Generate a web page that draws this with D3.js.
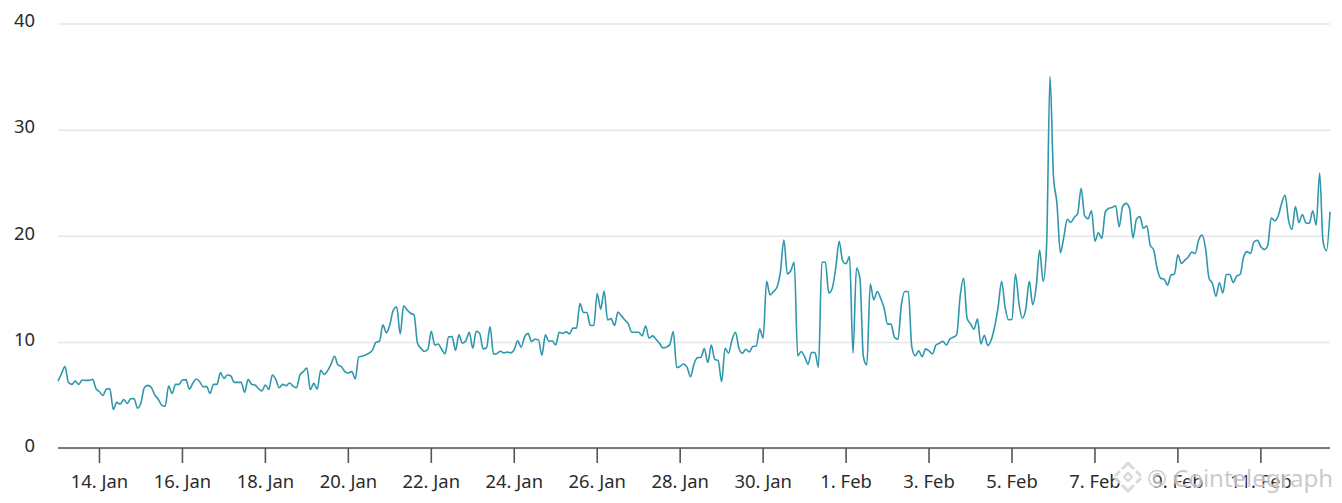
<!DOCTYPE html>
<html>
<head>
<meta charset="utf-8">
<script src="https://cdn.jsdelivr.net/npm/d3@7"></script>
<style>
  html, body { margin: 0; padding: 0; background: #fff; }
  text { font-family: "Noto Sans", sans-serif; }
</style>
</head>
<body>
<div id="chart"></div>
<script>
// First sample and sampling interval (one value every 2 hours)
const startDate = '2021-01-13T00:00';
const stepHours = 2;

const values = [
  6.3, 7.0, 7.67, 6.2, 6.0, 6.3, 6.0, 6.4, 6.37, 6.37, 6.47, 5.6, 5.3, 4.95, 5.55, 5.58, 3.63, 4.3, 4.13, 4.57,
  4.2, 4.64, 4.67, 3.75, 4.26, 5.7, 5.9, 5.7, 5.0, 4.6, 4.04, 3.94, 5.84, 5.14, 6.0, 6.0, 6.4, 6.44, 5.55, 6.1,
  6.5, 6.25, 5.77, 5.8, 5.14, 6.0, 6.0, 7.1, 6.56, 6.88, 6.78, 6.18, 6.18, 6.18, 5.24, 6.47, 6.0, 5.93, 5.6, 5.38,
  5.93, 5.52, 6.88, 6.47, 5.68, 6.0, 5.87, 6.12, 5.84, 5.68, 6.88, 7.2, 7.54, 5.49, 6.09, 5.55, 7.32, 6.94, 7.29, 7.9,
  8.64, 7.82, 7.67, 7.2, 7.07, 7.2, 6.5, 8.6, 8.65, 8.77, 8.93, 9.25, 9.97, 10.06, 11.6, 10.85, 11.6, 13.0, 13.3, 10.75,
  13.4, 13.0, 12.7, 12.55, 9.9, 9.4, 9.1, 9.3, 11.0, 9.7, 9.8, 9.3, 8.87, 10.47, 10.5, 9.2, 10.66, 9.87, 10.1, 10.9,
  9.4, 11.0, 10.8, 9.34, 9.47, 11.45, 8.84, 8.9, 9.12, 8.96, 9.03, 8.96, 9.3, 10.1, 9.5, 10.5, 10.8, 10.03, 10.25, 10.2,
  8.74, 10.66, 10.06, 10.1, 9.7, 10.9, 10.8, 10.94, 10.75, 11.3, 11.3, 13.6, 12.77, 12.77, 11.54, 11.54, 14.56, 13.08, 14.8, 12.07,
  12.2, 11.54, 12.8, 12.45, 12.07, 11.7, 10.9, 10.9, 10.9, 10.57, 11.5, 10.35, 10.57, 10.25, 9.87, 9.43, 9.5, 9.75, 10.97, 7.58,
  7.7, 7.92, 7.6, 6.73, 7.92, 8.5, 8.55, 9.37, 8.05, 9.7, 8.36, 8.24, 6.26, 9.4, 8.93, 10.2, 10.9, 9.4, 8.93, 9.3,
  9.06, 9.56, 9.62, 11.2, 10.35, 15.7, 14.43, 14.75, 15.15, 16.6, 19.6, 16.4, 16.7, 17.5, 8.7, 9.1, 8.6, 7.9, 9.0, 9.0,
  7.6, 17.5, 17.5, 14.6, 15.06, 16.95, 19.47, 17.64, 17.36, 18.05, 8.93, 16.95, 16.0, 8.6, 7.83, 15.44, 13.96, 14.75, 14.1, 13.18,
  11.67, 11.67, 10.44, 10.25, 13.5, 14.75, 14.75, 9.56, 8.7, 9.15, 8.6, 9.34, 9.15, 8.87, 9.7, 9.87, 10.06, 9.7, 10.25, 10.44,
  10.66, 14.3, 16.0, 12.23, 11.7, 11.2, 12.14, 9.8, 10.63, 9.65, 10.2, 11.45, 13.33, 15.7, 13.27, 12.08, 12.14, 16.4, 13.65, 12.23,
  13.1, 15.7, 13.5, 15.2, 18.65, 15.7, 19.0, 35.0, 25.6, 23.05, 18.4, 19.9, 21.54, 21.26, 21.73, 22.1, 24.47, 21.9, 21.6, 22.36,
  19.5, 20.28, 19.75, 22.26, 22.58, 22.67, 22.83, 20.85, 22.74, 23.05, 22.58, 19.8, 21.54, 21.8, 20.7, 20.94, 19.1, 18.65, 16.9, 16.0,
  15.9, 15.35, 16.3, 16.4, 18.2, 17.4, 17.7, 18.0, 18.46, 18.33, 19.6, 20.06, 18.8, 16.0, 15.5, 14.3, 15.57, 14.6, 16.35, 16.35,
  15.6, 16.2, 16.35, 18.0, 18.5, 18.33, 19.43, 19.56, 18.96, 18.7, 19.1, 21.7, 21.4, 21.86, 23.05, 23.84, 21.48, 20.6, 22.74, 21.23,
  22.0, 21.23, 21.16, 22.36, 21.0, 25.9, 19.43, 18.58, 22.26
];

const yTicks = [0, 10, 20, 30, 40];
const xTickDates = [
  '2021-01-14', '2021-01-16', '2021-01-18', '2021-01-20', '2021-01-22', '2021-01-24', '2021-01-26', '2021-01-28',
  '2021-01-30', '2021-02-01', '2021-02-03', '2021-02-05', '2021-02-07', '2021-02-09', '2021-02-11'
];

const watermark = 'Cointelegraph';

const width = 1342;
const height = 503;
const margin = { top: 23.5, right: 12, bottom: 55, left: 58 };

const svg = d3.select('#chart').append('svg')
  .attr('width', width)
  .attr('height', height)
  .style('display', 'block');

// Samples as dates
const start = d3.timeParse('%Y-%m-%dT%H:%M')(startDate);
const data = values.map((v, i) => ({ date: d3.timeHour.offset(start, i * stepHours), value: v }));
const parseDay = d3.timeParse('%Y-%m-%d');

// Scales
const x = d3.scaleTime()
  .domain(d3.extent(data, (d) => d.date))
  .range([margin.left, width - margin.right]);
const y = d3.scaleLinear()
  .domain([0, 40])
  .range([height - margin.bottom, margin.top]);

// Horizontal grid and y labels
const yAxis = svg.append('g')
  .attr('transform', 'translate(' + margin.left + ',0)')
  .call(d3.axisLeft(y).tickValues(yTicks).tickSize(-(width - margin.left - margin.right)).tickPadding(23));
yAxis.select('.domain').remove();
yAxis.selectAll('line').attr('stroke', '#e6e6e6').attr('stroke-width', 1.5);
yAxis.selectAll('text')
  .attr('fill', '#2b2b2b')
  .attr('dy', '0.18em')
  .style('font-size', '18.4px');

// X axis
const xAxis = svg.append('g')
  .attr('transform', 'translate(0,' + y(0) + ')')
  .call(d3.axisBottom(x)
    .tickValues(xTickDates.map(parseDay))
    .tickFormat(d3.timeFormat('%-d. %b'))
    .tickSize(15)
    .tickSizeOuter(0)
    .tickPadding(12)
    .offset(0));
xAxis.select('.domain').attr('stroke', '#555').attr('stroke-width', 1.6);
xAxis.selectAll('line').attr('stroke', '#555').attr('stroke-width', 1.6);
xAxis.selectAll('text')
  .attr('fill', '#2b2b2b')
  .style('font-size', '18.4px');

// Line
const line = d3.line()
  .x((d) => x(d.date))
  .y((d) => y(d.value))
  .curve(d3.curveMonotoneX);

svg.append('path').datum(data)
  .attr('d', line)
  .attr('fill', 'none')
  .attr('stroke', '#2f97ab')
  .attr('stroke-width', 1.6)
  .attr('stroke-linejoin', 'round');

// Watermark, sits on top of the last tick labels
const mark = svg.append('g')
  .attr('transform', 'translate(1128,477)')
  .attr('fill', 'none')
  .attr('stroke-linejoin', 'round');
mark.append('path')
  .attr('d', 'M0,-13L13,0L0,13L-13,0Z')
  .attr('fill', 'rgba(255,255,255,0.6)')
  .attr('stroke', 'none');
mark.append('path')
  .attr('d', 'M-6,-8L0,-14L6,-8M-6,8L0,14L6,8M-13,-1L-8,-6M-13,1L-8,6M13,-1L8,-6M13,1L8,6')
  .attr('stroke', 'rgba(215,215,215,0.9)')
  .attr('stroke-width', 3);
mark.append('path')
  .attr('d', 'M-4,0L0,-4L4,0L0,4Z')
  .attr('stroke', 'rgba(215,215,215,0.9)')
  .attr('stroke-width', 2.5);

svg.append('text')
  .attr('x', 1147)
  .attr('y', 487)
  .attr('fill', 'rgba(185,185,185,0.75)')
  .attr('stroke', 'rgba(255,255,255,0.55)')
  .attr('stroke-width', 2)
  .attr('paint-order', 'stroke')
  .style('font-size', '24px')
  .text('\u00a9 ' + watermark);
</script>
</body>
</html>
